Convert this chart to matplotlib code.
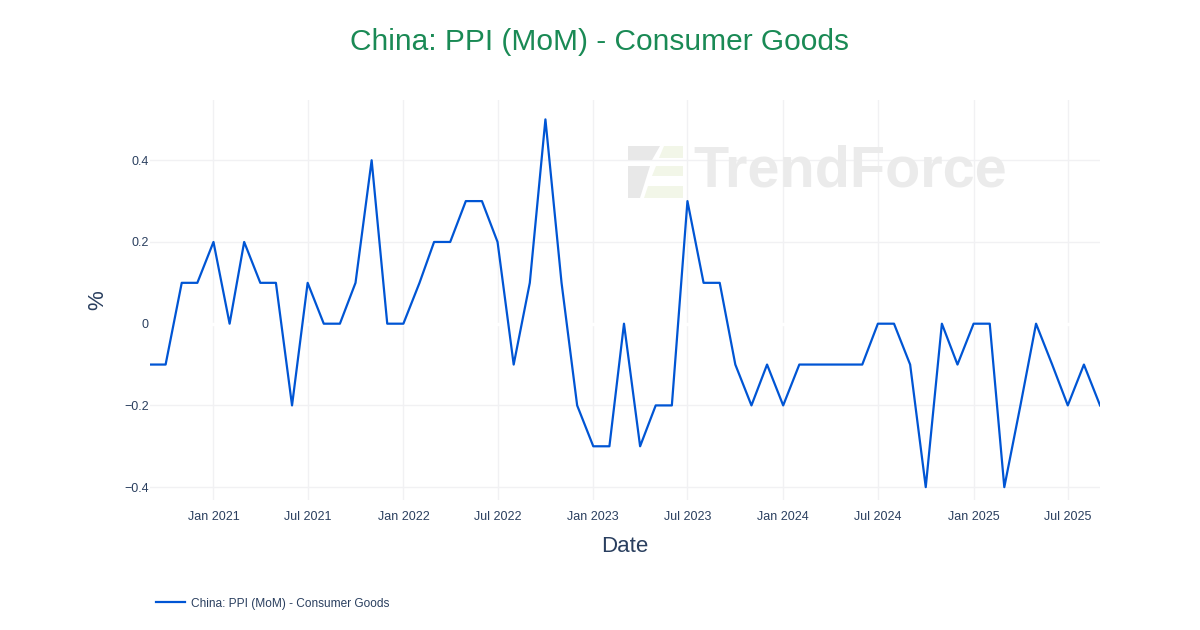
import numpy as np
import pandas as pd
import matplotlib
matplotlib.use("Agg")
import matplotlib.pyplot as plt
import matplotlib.dates as mdates
from matplotlib.ticker import FuncFormatter
from matplotlib.patches import Polygon

plt.rcParams['font.family'] = ['Liberation Sans', 'DejaVu Sans']

# monthly data, Sep 2020 .. Sep 2025
months = pd.date_range("2020-09-01", "2025-09-01", freq="MS")
ppi_mom = [
    -0.1, -0.1, 0.1, 0.1,                                            # 2020 Sep-Dec
    0.2, 0.0, 0.2, 0.1, 0.1, -0.2, 0.1, 0.0, 0.0, 0.1, 0.4, 0.0,      # 2021
    0.0, 0.1, 0.2, 0.2, 0.3, 0.3, 0.2, -0.1, 0.1, 0.5, 0.1, -0.2,     # 2022
    -0.3, -0.3, 0.0, -0.3, -0.2, -0.2, 0.3, 0.1, 0.1, -0.1, -0.2, -0.1,  # 2023
    -0.2, -0.1, -0.1, -0.1, -0.1, -0.1, 0.0, 0.0, -0.1, -0.4, 0.0, -0.1,  # 2024
    0.0, 0.0, -0.4, -0.2, 0.0, -0.1, -0.2, -0.1, -0.2,                # 2025 Jan-Sep
]
series_name = "China: PPI (MoM) - Consumer Goods"
y_ticks = [-0.4, -0.2, 0, 0.2, 0.4]

text_col = "#2a3f5f"
line_col = "#0055d4"

fig = plt.figure(figsize=(12, 6.3), dpi=100)
ax = fig.add_axes([0.125, 0.206, 0.7917, 0.635])

ax.axhline(0, color="white", lw=2.5, zorder=1)
ax.plot(months, ppi_mom, color=line_col, lw=1.6, zorder=3)

ax.set_xlim(months[0], months[-1])
ax.set_ylim(-0.432, 0.547)
ax.set_yticks(y_ticks)
ax.yaxis.set_major_formatter(FuncFormatter(
    lambda v, p: "0" if abs(v) < 1e-9 else f"{v:.1f}".replace("-", "\u2212")))
ax.xaxis.set_major_locator(mdates.MonthLocator(bymonth=[1, 7]))
ax.xaxis.set_major_formatter(mdates.DateFormatter("%b %Y"))

ax.grid(True, color="#f1f1f3", lw=1, zorder=0)
ax.set_axisbelow(True)
for s in ax.spines.values():
    s.set_visible(False)
ax.tick_params(axis="x", length=0, labelsize=9, colors=text_col, pad=8)
ax.tick_params(axis="y", length=0, labelsize=9, colors=text_col, pad=1)

ax.set_xlabel("Date", fontsize=16, color=text_col, labelpad=9)
ax.set_ylabel("%", fontsize=16, color=text_col, labelpad=11)

fig.text(0.5, 0.933, series_name, ha="center", va="center",
         fontsize=21.5, color="#1a8a55")

# watermark
fig.text(0.578, 0.727, "TrendForce", ha="left", va="center", fontsize=41.5,
         fontweight="bold", color="#ebebeb", zorder=0)
grey_parts = ([[628, 146], [660, 146], [652, 160], [628, 160]],
              [[650, 166], [640, 198], [628, 198], [628, 166]])
green_parts = ([[664, 146], [683, 146], [683, 158], [659, 158]],
               [[656, 166], [683, 166], [683, 176], [652, 176]],
               [[648, 186], [683, 186], [683, 198], [644, 198]])
for parts, col in ((grey_parts, "#e8e8e8"), (green_parts, "#f2f6e8")):
    for pts in parts:
        fig.patches.append(Polygon([[x, 630 - y] for x, y in pts], closed=True,
                                   transform=None, fc=col, ec="none", figure=fig))

# legend
leg = fig.legend([plt.Line2D([], [], color=line_col, lw=1.6)], [series_name],
                 loc="center left", bbox_to_anchor=(0.121, 0.042), frameon=False,
                 fontsize=8.6, handlelength=2.45, handletextpad=0.45)
for t in leg.get_texts():
    t.set_color(text_col)

fig.savefig("out.png", dpi=100, facecolor="white")
